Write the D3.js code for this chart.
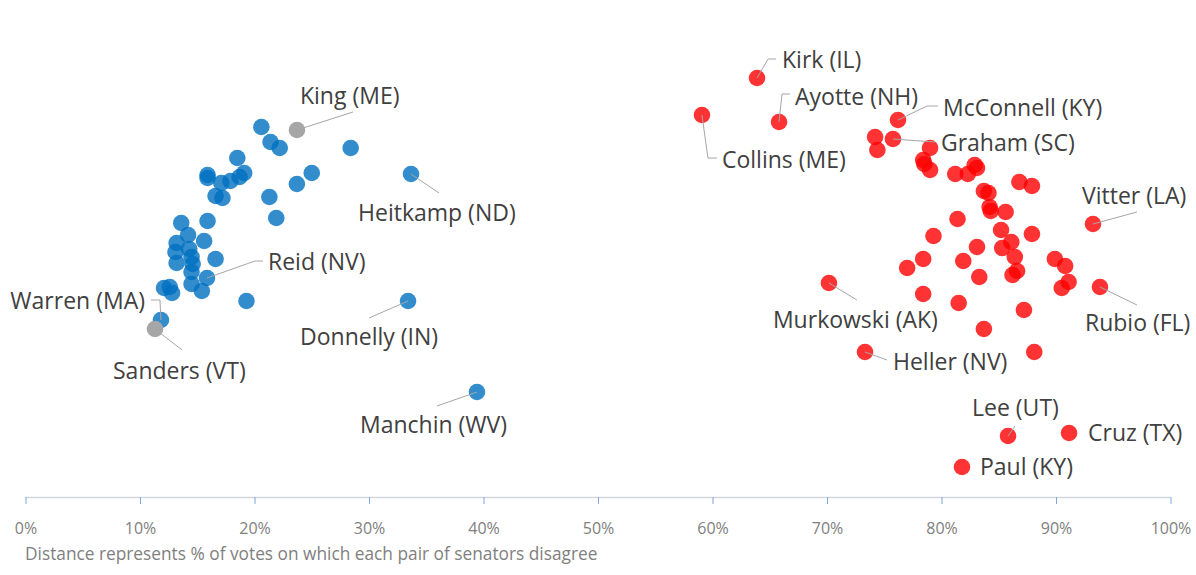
<!DOCTYPE html>
<html>
<head>
<meta charset="utf-8">
<script src="https://cdn.jsdelivr.net/npm/d3@7"></script>
<style>
  body { margin: 0; background: #fff; }
  svg text { font-family: "Open Sans", Lato, sans-serif; }
</style>
</head>
<body>
<div id="chart-area"></div>
<script>
// x = % disagreement, y = arbitrary layout axis (no meaning, hidden)
var demX = [20.6, 21.4, 22.2, 28.4, 18.5, 15.9, 15.9, 17.1, 17.9, 18.7, 19.1, 25.0, 23.7, 16.6, 17.2, 21.3, 21.9, 13.6, 15.9, 14.2, 15.6, 13.2, 14.3, 13.1, 14.5, 16.6, 13.2, 14.6, 14.5, 15.85, 14.5, 12.1, 12.6, 12.8, 15.4, 19.3, 11.83, 33.41, 33.67, 39.43];
var demY = [74.6, 71.6, 70.4, 70.4, 68.4, 65.0, 64.4, 63.4, 63.8, 64.6, 65.4, 65.4, 63.2, 60.8, 60.4, 60.6, 56.4, 55.4, 55.8, 53.0, 51.8, 51.4, 50.2, 49.6, 48.6, 48.2, 47.4, 47.2, 45.6, 44.4, 43.2, 42.4, 42.6, 41.4, 41.8, 39.8, 36.0, 39.8, 65.2, 21.6];
var demName = [];
demName[29] = "Reid (NV)"; demName[36] = "Warren (MA)"; demName[37] = "Donnelly (IN)";
demName[38] = "Heitkamp (ND)"; demName[39] = "Manchin (WV)";

var indX = [23.71, 11.31];
var indY = [74.0, 34.2];
var indName = ["King (ME)", "Sanders (VT)"];

var repX = [63.89, 59.08, 65.81, 76.20, 74.2, 74.4, 75.76, 79.0, 78.4, 78.5, 79.0, 81.2, 82.3, 82.9, 83.1, 86.8, 87.9, 83.7, 84.1, 84.2, 84.3, 85.6, 81.4, 85.2, 87.9, 79.3, 86.1, 85.3, 83.1, 86.4, 78.4, 77.0, 81.9, 89.9, 90.8, 86.6, 86.2, 83.3, 91.1, 90.5, 93.84, 93.23, 70.17, 78.4, 81.5, 87.2, 83.7, 88.1, 73.32, 85.81, 91.14, 81.79];
var repY = [84.4, 77.0, 75.6, 76.0, 72.6, 70.0, 72.2, 70.4, 68.0, 67.2, 66.0, 65.2, 65.2, 67.0, 66.4, 63.6, 62.8, 61.8, 61.4, 58.6, 57.8, 57.6, 56.2, 54.0, 53.2, 52.8, 51.6, 50.4, 50.6, 48.6, 48.2, 46.4, 47.8, 48.2, 46.8, 45.8, 45.0, 44.6, 43.6, 42.4, 42.6, 55.2, 43.4, 41.2, 39.4, 38.0, 34.2, 29.6, 29.6, 12.8, 13.4, 6.6];
var repName = [];
repName[0] = "Kirk (IL)"; repName[1] = "Collins (ME)"; repName[2] = "Ayotte (NH)";
repName[3] = "McConnell (KY)"; repName[6] = "Graham (SC)"; repName[40] = "Rubio (FL)";
repName[41] = "Vitter (LA)"; repName[42] = "Murkowski (AK)"; repName[48] = "Heller (NV)";
repName[49] = "Lee (UT)"; repName[50] = "Cruz (TX)"; repName[51] = "Paul (KY)";

var xTicks = [0, 10, 20, 30, 40, 50, 60, 70, 80, 90, 100];
var caption = "Distance represents % of votes on which each pair of senators disagree";

// label placement: text offset from the dot + leader line path (pixels)
var labelPos = {
  "Kirk (IL)":      { dx: 25,  dy: -18, line: [[0,0],[11,-19],[19,-19]] },
  "Ayotte (NH)":    { dx: 16,  dy: -25, line: [[0,0],[3,-28],[11,-28]] },
  "McConnell (KY)": { dx: 45,  dy: -12, line: [[0,0],[29,-14],[40,-14]] },
  "Graham (SC)":    { dx: 48,  dy: 4,   line: [[0,0],[42,3]] },
  "Collins (ME)":   { dx: 20,  dy: 45,  line: [[0,0],[6,43],[15,43]] },
  "King (ME)":      { dx: 3,   dy: -34, line: [[0,0],[56,-18]] },
  "Heitkamp (ND)":  { dx: -53, dy: 39,  line: [[0,0],[28,19]] },
  "Reid (NV)":      { dx: 61,  dy: -16, line: [[0,0],[48,-17],[56,-17]] },
  "Warren (MA)":    { dx: -16, dy: -19, anchor: "end", line: [[0,0],[-1,-20],[-10,-20]] },
  "Sanders (VT)":   { dx: -42, dy: 42,  line: [[0,0],[27,21]] },
  "Donnelly (IN)":  { dx: -108, dy: 36, line: [[0,0],[-39,17]] },
  "Manchin (WV)":   { dx: -117, dy: 33, line: [[0,0],[-40,14]] },
  "Murkowski (AK)": { dx: -56, dy: 37,  line: [[0,0],[28,17]] },
  "Vitter (LA)":    { dx: -11, dy: -28, line: [[0,0],[44,-12]] },
  "Rubio (FL)":     { dx: -15, dy: 36,  line: [[0,0],[37,18]] },
  "Heller (NV)":    { dx: 28,  dy: 10,  line: [[0,0],[22,8]] },
  "Lee (UT)":       { dx: -36, dy: -28, line: [[0,0],[7,-10]] },
  "Cruz (TX)":      { dx: 19,  dy: 0 },
  "Paul (KY)":      { dx: 18,  dy: 0 }
};

function build(xs, ys, names, party) {
  return xs.map(function(v, i) {
    return { x: v, y: ys[i], name: names[i], party: party };
  });
}
var data = build(demX, demY, demName, "D")
  .concat(build(repX, repY, repName, "R"))
  .concat(build(indX, indY, indName, "I"));

var width = 1196, height = 575;
var colors = { D: "#0070c0", R: "#ff0000", I: "#a6a6a6" };

var svg = d3.select("#chart-area")
  .append("svg")
    .attr("width", width)
    .attr("height", height);

var x = d3.scaleLinear().domain([0, 100]).range([25.5, 1170.5]);
var y = d3.scaleLinear().domain([0, 100]).range([500, 0]);

var axisY = 497;
var xAxis = d3.axisBottom(x)
  .tickValues(xTicks)
  .tickSize(7)
  .tickFormat(function(d) { return d + "%"; });

var ax = svg.append("g")
  .attr("class", "x axis")
  .attr("transform", "translate(0," + axisY + ")")
  .call(xAxis);
ax.select(".domain").attr("stroke", "#d0d7e0").attr("stroke-width", 1.3)
  .attr("d", "M" + x(0) + ",0.5H" + x(100));
ax.selectAll(".tick line").attr("stroke", "#7fa8d8");
ax.selectAll(".tick text")
  .attr("y", 26)
  .attr("fill", "#808080")
  .attr("font-size", "16px");

svg.append("text")
  .attr("x", 25)
  .attr("y", 560)
  .attr("fill", "#808080")
  .attr("font-size", "17.3px")
  .text(caption);

// dots
svg.append("g").selectAll("circle")
  .data(data)
  .enter()
  .append("circle")
    .attr("cx", function(d) { return x(d.x); })
    .attr("cy", function(d) { return y(d.y); })
    .attr("r", 8.3)
    .attr("fill", function(d) { return colors[d.party]; })
    .attr("fill-opacity", function(d) { return d.party == "I" ? 1 : 0.8; });

var labeled = data.filter(function(d) { return d.name; });

// leader lines
var lineGen = d3.line();
svg.append("g").selectAll("path")
  .data(labeled.filter(function(d) { return labelPos[d.name].line; }))
  .enter()
  .append("path")
    .attr("d", function(d) {
      var px = x(d.x), py = y(d.y);
      return lineGen(labelPos[d.name].line.map(function(p) { return [px + p[0], py + p[1]]; }));
    })
    .attr("fill", "none")
    .attr("stroke", "#a6a6a6")
    .attr("stroke-width", 1);

svg.append("g").selectAll("text")
  .data(labeled)
  .enter()
  .append("text")
    .attr("x", function(d) { return x(d.x) + labelPos[d.name].dx; })
    .attr("y", function(d) { return y(d.y) + labelPos[d.name].dy; })
    .attr("dy", "0.35em")
    .attr("text-anchor", function(d) { return labelPos[d.name].anchor || "start"; })
    .attr("fill", "#404040")
    .attr("font-size", "23px")
    .text(function(d) { return d.name; });
</script>
</body>
</html>
